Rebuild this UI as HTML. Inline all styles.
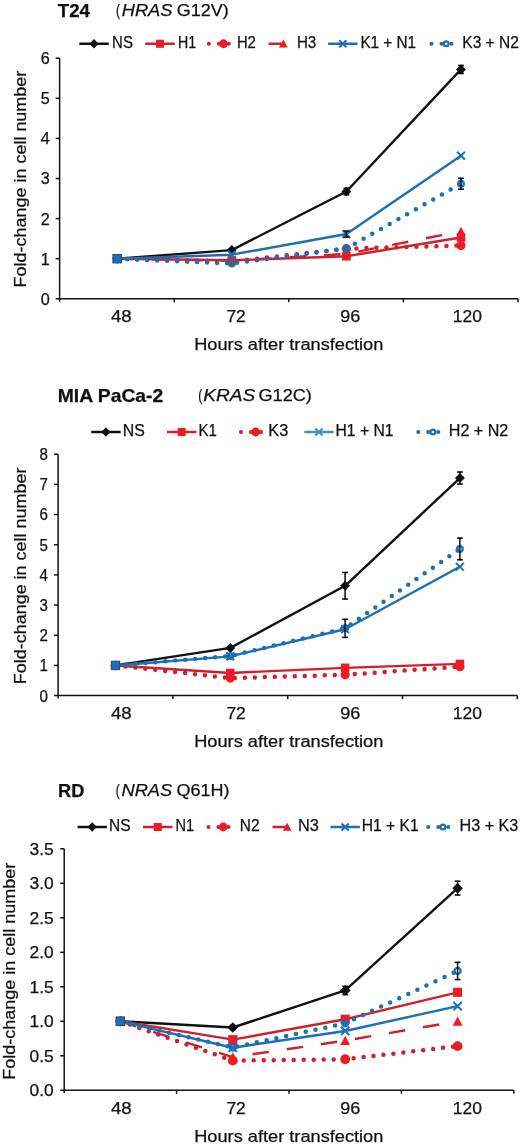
<!DOCTYPE html>
<html><head><meta charset="utf-8"><title>Fold-change in cell number</title>
<style>
html,body{margin:0;padding:0;background:#fff;}
svg{display:block;}
svg text{font-family:"Liberation Sans",Arial,Helvetica,sans-serif;fill:#111;stroke:#111;stroke-width:0.25px;stroke-linejoin:round;}
</style></head><body>
<svg width="520" height="1146" viewBox="0 0 520 1146">
<rect width="520" height="1146" fill="#fff"/>
<polyline points="117.20,258.70 231.80,250.08 346.40,191.53 461.00,69.43" fill="none" stroke="#111" stroke-width="2.4" stroke-linecap="butt" stroke-linejoin="round"/>
<path d="M117.20 253.73L122.17 258.70L117.20 263.67L112.23 258.70Z" fill="#111"/>
<path d="M231.80 245.11L236.77 250.08L231.80 255.05L226.83 250.08Z" fill="#111"/>
<path d="M346.40 186.56L351.37 191.53L346.40 196.50L341.43 191.53Z" fill="#111"/>
<path d="M461.00 64.46L465.97 69.43L461.00 74.40L456.03 69.43Z" fill="#111"/>
<line x1="231.80" y1="248.88" x2="231.80" y2="251.28" stroke="#0a0a14" stroke-width="1.5" />
<line x1="228.90" y1="248.88" x2="234.70" y2="248.88" stroke="#0a0a14" stroke-width="1.6" />
<line x1="228.90" y1="251.28" x2="234.70" y2="251.28" stroke="#0a0a14" stroke-width="1.6" />
<line x1="346.40" y1="188.32" x2="346.40" y2="194.74" stroke="#0a0a14" stroke-width="1.5" />
<line x1="343.50" y1="188.32" x2="349.30" y2="188.32" stroke="#0a0a14" stroke-width="1.6" />
<line x1="343.50" y1="194.74" x2="349.30" y2="194.74" stroke="#0a0a14" stroke-width="1.6" />
<line x1="461.00" y1="65.42" x2="461.00" y2="73.44" stroke="#0a0a14" stroke-width="1.5" />
<line x1="458.10" y1="65.42" x2="463.90" y2="65.42" stroke="#0a0a14" stroke-width="1.6" />
<line x1="458.10" y1="73.44" x2="463.90" y2="73.44" stroke="#0a0a14" stroke-width="1.6" />
<polyline points="117.20,258.70 231.80,260.30 346.40,256.29 461.00,237.45" fill="none" stroke="#D21F2D" stroke-width="2.4" stroke-linecap="butt" stroke-linejoin="round"/>
<rect x="112.92" y="254.42" width="8.56" height="8.56" fill="#ED1C24"/>
<rect x="227.52" y="256.03" width="8.56" height="8.56" fill="#ED1C24"/>
<rect x="342.12" y="252.02" width="8.56" height="8.56" fill="#ED1C24"/>
<rect x="456.72" y="233.17" width="8.56" height="8.56" fill="#ED1C24"/>
<polyline points="117.20,258.70 231.80,261.51 346.40,248.68 461.00,245.47" fill="none" stroke="#D21F2D" stroke-width="4.5" stroke-linecap="round" stroke-linejoin="round" stroke-dasharray="0 10"/>
<circle cx="117.20" cy="258.70" r="4.60" fill="#ED1C24"/>
<circle cx="231.80" cy="261.51" r="4.60" fill="#ED1C24"/>
<circle cx="346.40" cy="248.68" r="4.60" fill="#ED1C24"/>
<circle cx="461.00" cy="245.47" r="4.60" fill="#ED1C24"/>
<polyline points="117.20,258.70 231.80,260.71 346.40,253.89 461.00,231.43" fill="none" stroke="#D21F2D" stroke-width="2.4" stroke-linecap="butt" stroke-linejoin="round" stroke-dasharray="16.5 18"/>
<path d="M117.20 254.10L121.80 262.84L112.60 262.84Z" fill="#ED1C24"/>
<path d="M231.80 256.11L236.40 264.85L227.20 264.85Z" fill="#ED1C24"/>
<path d="M346.40 249.29L351.00 258.03L341.80 258.03Z" fill="#ED1C24"/>
<path d="M461.00 226.83L465.60 235.57L456.40 235.57Z" fill="#ED1C24"/>
<polyline points="117.20,258.70 231.80,254.69 346.40,234.04 461.00,155.64" fill="none" stroke="#1B70B4" stroke-width="2.4" stroke-linecap="butt" stroke-linejoin="round"/>
<path d="M113.29 254.79L121.11 262.61M113.29 262.61L121.11 254.79" stroke="#1B70B4" stroke-width="2" fill="none"/>
<path d="M227.89 250.78L235.71 258.60M227.89 258.60L235.71 250.78" stroke="#1B70B4" stroke-width="2" fill="none"/>
<path d="M342.49 230.13L350.31 237.95M342.49 237.95L350.31 230.13" stroke="#1B70B4" stroke-width="2" fill="none"/>
<path d="M457.09 151.73L464.91 159.55M457.09 159.55L464.91 151.73" stroke="#1B70B4" stroke-width="2" fill="none"/>
<line x1="346.40" y1="231.03" x2="346.40" y2="237.05" stroke="#0a0a14" stroke-width="1.5" />
<line x1="343.50" y1="231.03" x2="349.30" y2="231.03" stroke="#0a0a14" stroke-width="1.6" />
<line x1="343.50" y1="237.05" x2="349.30" y2="237.05" stroke="#0a0a14" stroke-width="1.6" />
<polyline points="117.20,258.70 231.80,263.51 346.40,248.47 461.00,183.71" fill="none" stroke="#1B70B4" stroke-width="4.5" stroke-linecap="round" stroke-linejoin="round" stroke-dasharray="0 10"/>
<circle cx="117.20" cy="258.70" r="2.85" fill="none" stroke="#1B70B4" stroke-width="2.2"/>
<circle cx="231.80" cy="263.51" r="2.85" fill="none" stroke="#1B70B4" stroke-width="2.2"/>
<circle cx="346.40" cy="248.47" r="2.85" fill="none" stroke="#1B70B4" stroke-width="2.2"/>
<circle cx="461.00" cy="183.71" r="2.85" fill="none" stroke="#1B70B4" stroke-width="2.2"/>
<line x1="461.00" y1="178.30" x2="461.00" y2="189.13" stroke="#0a0a14" stroke-width="1.5" />
<line x1="458.10" y1="178.30" x2="463.90" y2="178.30" stroke="#0a0a14" stroke-width="1.6" />
<line x1="458.10" y1="189.13" x2="463.90" y2="189.13" stroke="#0a0a14" stroke-width="1.6" />
<rect x="112.90" y="254.40" width="8.60" height="8.60" fill="#1B70B4" stroke="#1c4a7c" stroke-width="0.8"/>
<line x1="59.60" y1="58.20" x2="59.60" y2="301.80" stroke="#111" stroke-width="1.5" />
<line x1="55.60" y1="298.80" x2="518.00" y2="298.80" stroke="#111" stroke-width="1.5" />
<line x1="518.00" y1="298.80" x2="518.00" y2="302.30" stroke="#111" stroke-width="1.5" />
<line x1="55.60" y1="258.70" x2="59.60" y2="258.70" stroke="#111" stroke-width="1.5" />
<line x1="55.60" y1="218.60" x2="59.60" y2="218.60" stroke="#111" stroke-width="1.5" />
<line x1="55.60" y1="178.50" x2="59.60" y2="178.50" stroke="#111" stroke-width="1.5" />
<line x1="55.60" y1="138.40" x2="59.60" y2="138.40" stroke="#111" stroke-width="1.5" />
<line x1="55.60" y1="98.30" x2="59.60" y2="98.30" stroke="#111" stroke-width="1.5" />
<line x1="55.60" y1="58.20" x2="59.60" y2="58.20" stroke="#111" stroke-width="1.5" />
<line x1="174.20" y1="298.80" x2="174.20" y2="302.30" stroke="#111" stroke-width="1.5" />
<line x1="288.80" y1="298.80" x2="288.80" y2="302.30" stroke="#111" stroke-width="1.5" />
<line x1="403.40" y1="298.80" x2="403.40" y2="302.30" stroke="#111" stroke-width="1.5" />
<text x="40.80" y="304.70" font-size="16.6" textLength="9.02" lengthAdjust="spacingAndGlyphs">0</text>
<text x="40.80" y="264.60" font-size="16.6" textLength="9.02" lengthAdjust="spacingAndGlyphs">1</text>
<text x="40.80" y="224.50" font-size="16.6" textLength="9.02" lengthAdjust="spacingAndGlyphs">2</text>
<text x="40.80" y="184.40" font-size="16.6" textLength="9.02" lengthAdjust="spacingAndGlyphs">3</text>
<text x="40.80" y="144.30" font-size="16.6" textLength="9.02" lengthAdjust="spacingAndGlyphs">4</text>
<text x="40.80" y="104.20" font-size="16.6" textLength="9.02" lengthAdjust="spacingAndGlyphs">5</text>
<text x="40.80" y="64.10" font-size="16.6" textLength="9.02" lengthAdjust="spacingAndGlyphs">6</text>
<text x="110.90" y="322.10" font-size="16.6" textLength="20.74" lengthAdjust="spacingAndGlyphs">48</text>
<text x="226.40" y="322.10" font-size="16.6" textLength="19.34" lengthAdjust="spacingAndGlyphs">72</text>
<text x="340.30" y="322.10" font-size="16.6" textLength="20.14" lengthAdjust="spacingAndGlyphs">96</text>
<text x="452.70" y="322.10" font-size="16.6" textLength="29.17" lengthAdjust="spacingAndGlyphs">120</text>
<text x="194.20" y="350.00" font-size="16.7" textLength="189.18" lengthAdjust="spacingAndGlyphs">Hours after transfection</text>
<text transform="translate(26.20,287.50) rotate(-90)" x="0.00" y="0" font-size="17.2" textLength="216.84" lengthAdjust="spacingAndGlyphs">Fold-change in cell number</text>
<text x="57.80" y="16.80" font-size="17.8" textLength="32.17" lengthAdjust="spacingAndGlyphs" font-weight="bold" stroke-width="0">T24</text>
<text x="116.00" y="15.70" font-size="16.7" textLength="3.98" lengthAdjust="spacingAndGlyphs">(</text>
<text x="121.75" y="15.70" font-size="16.7" textLength="50.72" lengthAdjust="spacingAndGlyphs" font-style="italic">HRAS</text>
<text x="176.75" y="15.70" font-size="16.7" textLength="52.00" lengthAdjust="spacingAndGlyphs">G12V)</text>
<polyline points="79.30,43.75 108.70,43.75" fill="none" stroke="#111" stroke-width="2.5" stroke-linecap="butt" stroke-linejoin="round"/>
<path d="M94.00 39.11L98.64 43.75L94.00 48.39L89.36 43.75Z" fill="#111"/>
<text x="112.10" y="48.30" font-size="15.7" textLength="20.79" lengthAdjust="spacingAndGlyphs">NS</text>
<polyline points="145.30,43.75 174.70,43.75" fill="none" stroke="#D21F2D" stroke-width="2.5" stroke-linecap="butt" stroke-linejoin="round"/>
<rect x="156.00" y="39.75" width="8.00" height="8.00" fill="#ED1C24"/>
<text x="178.10" y="48.30" font-size="15.7" textLength="18.18" lengthAdjust="spacingAndGlyphs">H1</text>
<polyline points="208.80,43.75 238.20,43.75" fill="none" stroke="#D21F2D" stroke-width="4.1" stroke-linecap="round" stroke-linejoin="round" stroke-dasharray="0 10"/>
<circle cx="223.50" cy="43.75" r="4.40" fill="#ED1C24"/>
<text x="236.90" y="48.30" font-size="15.7" textLength="18.98" lengthAdjust="spacingAndGlyphs">H2</text>
<polyline points="268.60,43.75 298.00,43.75" fill="none" stroke="#D21F2D" stroke-width="2.5" stroke-linecap="butt" stroke-linejoin="round" stroke-dasharray="16.5 18"/>
<path d="M283.30 39.45L287.60 47.62L279.00 47.62Z" fill="#ED1C24"/>
<text x="296.90" y="48.30" font-size="15.7" textLength="19.38" lengthAdjust="spacingAndGlyphs">H3</text>
<polyline points="328.10,43.75 357.50,43.75" fill="none" stroke="#1B70B4" stroke-width="2.5" stroke-linecap="butt" stroke-linejoin="round"/>
<path d="M339.23 40.18L346.37 47.32M339.23 47.32L346.37 40.18" stroke="#1B70B4" stroke-width="2" fill="none"/>
<text x="360.40" y="48.30" font-size="15.7" textLength="55.72" lengthAdjust="spacingAndGlyphs">K1 + N1</text>
<polyline points="431.50,43.75 460.90,43.75" fill="none" stroke="#1B70B4" stroke-width="4.1" stroke-linecap="round" stroke-linejoin="round" stroke-dasharray="0 10"/>
<circle cx="446.20" cy="43.75" r="2.42" fill="none" stroke="#1B70B4" stroke-width="2.2"/>
<text x="462.30" y="48.30" font-size="15.7" textLength="56.52" lengthAdjust="spacingAndGlyphs">K3 + N2</text>
<polyline points="115.50,665.43 230.30,647.92 345.10,585.76 459.90,478.04" fill="none" stroke="#111" stroke-width="2.4" stroke-linecap="butt" stroke-linejoin="round"/>
<path d="M115.50 660.46L120.47 665.43L115.50 670.39L110.53 665.43Z" fill="#111"/>
<path d="M230.30 642.96L235.27 647.92L230.30 652.89L225.33 647.92Z" fill="#111"/>
<path d="M345.10 580.80L350.07 585.76L345.10 590.73L340.13 585.76Z" fill="#111"/>
<path d="M459.90 473.07L464.87 478.04L459.90 483.01L454.93 478.04Z" fill="#111"/>
<line x1="230.30" y1="646.41" x2="230.30" y2="649.43" stroke="#0a0a14" stroke-width="1.5" />
<line x1="227.40" y1="646.41" x2="233.20" y2="646.41" stroke="#0a0a14" stroke-width="1.6" />
<line x1="227.40" y1="649.43" x2="233.20" y2="649.43" stroke="#0a0a14" stroke-width="1.6" />
<line x1="345.10" y1="572.49" x2="345.10" y2="599.04" stroke="#0a0a14" stroke-width="1.5" />
<line x1="342.20" y1="572.49" x2="348.00" y2="572.49" stroke="#0a0a14" stroke-width="1.6" />
<line x1="342.20" y1="599.04" x2="348.00" y2="599.04" stroke="#0a0a14" stroke-width="1.6" />
<line x1="459.90" y1="472.00" x2="459.90" y2="484.07" stroke="#0a0a14" stroke-width="1.5" />
<line x1="457.00" y1="472.00" x2="462.80" y2="472.00" stroke="#0a0a14" stroke-width="1.6" />
<line x1="457.00" y1="484.07" x2="462.80" y2="484.07" stroke="#0a0a14" stroke-width="1.6" />
<polyline points="115.50,665.43 230.30,672.97 345.10,667.84 459.90,663.92" fill="none" stroke="#D21F2D" stroke-width="2.4" stroke-linecap="butt" stroke-linejoin="round"/>
<rect x="111.22" y="661.15" width="8.56" height="8.56" fill="#ED1C24"/>
<rect x="226.02" y="668.69" width="8.56" height="8.56" fill="#ED1C24"/>
<rect x="340.82" y="663.56" width="8.56" height="8.56" fill="#ED1C24"/>
<rect x="455.62" y="659.64" width="8.56" height="8.56" fill="#ED1C24"/>
<polyline points="115.50,665.43 230.30,678.10 345.10,674.78 459.90,666.63" fill="none" stroke="#D21F2D" stroke-width="4.5" stroke-linecap="round" stroke-linejoin="round" stroke-dasharray="0 10"/>
<circle cx="115.50" cy="665.43" r="4.60" fill="#ED1C24"/>
<circle cx="230.30" cy="678.10" r="4.60" fill="#ED1C24"/>
<circle cx="345.10" cy="674.78" r="4.60" fill="#ED1C24"/>
<circle cx="459.90" cy="666.63" r="4.60" fill="#ED1C24"/>
<polyline points="115.50,665.43 230.30,656.37 345.10,629.22 459.90,566.75" fill="none" stroke="#1B70B4" stroke-width="2.4" stroke-linecap="butt" stroke-linejoin="round"/>
<path d="M111.59 661.52L119.41 669.34M111.59 669.34L119.41 661.52" stroke="#1B70B4" stroke-width="2" fill="none"/>
<path d="M226.39 652.46L234.21 660.28M226.39 660.28L234.21 652.46" stroke="#1B70B4" stroke-width="2" fill="none"/>
<path d="M341.19 625.31L349.01 633.12M341.19 633.12L349.01 625.31" stroke="#1B70B4" stroke-width="2" fill="none"/>
<path d="M455.99 562.84L463.81 570.66M455.99 570.66L463.81 562.84" stroke="#1B70B4" stroke-width="2" fill="none"/>
<polyline points="115.50,665.43 230.30,656.07 345.10,628.31 459.90,548.95" fill="none" stroke="#1B70B4" stroke-width="4.5" stroke-linecap="round" stroke-linejoin="round" stroke-dasharray="0 10"/>
<circle cx="115.50" cy="665.43" r="2.85" fill="none" stroke="#1B70B4" stroke-width="2.2"/>
<circle cx="230.30" cy="656.07" r="2.85" fill="none" stroke="#1B70B4" stroke-width="2.2"/>
<circle cx="345.10" cy="628.31" r="2.85" fill="none" stroke="#1B70B4" stroke-width="2.2"/>
<circle cx="459.90" cy="548.95" r="2.85" fill="none" stroke="#1B70B4" stroke-width="2.2"/>
<line x1="345.10" y1="619.26" x2="345.10" y2="637.36" stroke="#0a0a14" stroke-width="1.5" />
<line x1="342.20" y1="619.26" x2="348.00" y2="619.26" stroke="#0a0a14" stroke-width="1.6" />
<line x1="342.20" y1="637.36" x2="348.00" y2="637.36" stroke="#0a0a14" stroke-width="1.6" />
<line x1="459.90" y1="538.09" x2="459.90" y2="559.81" stroke="#0a0a14" stroke-width="1.5" />
<line x1="457.00" y1="538.09" x2="462.80" y2="538.09" stroke="#0a0a14" stroke-width="1.6" />
<line x1="457.00" y1="559.81" x2="462.80" y2="559.81" stroke="#0a0a14" stroke-width="1.6" />
<rect x="111.20" y="661.13" width="8.60" height="8.60" fill="#1B70B4" stroke="#1c4a7c" stroke-width="0.8"/>
<line x1="58.10" y1="454.20" x2="58.10" y2="698.60" stroke="#111" stroke-width="1.5" />
<line x1="54.10" y1="695.60" x2="517.30" y2="695.60" stroke="#111" stroke-width="1.5" />
<line x1="517.30" y1="695.60" x2="517.30" y2="699.10" stroke="#111" stroke-width="1.5" />
<line x1="54.10" y1="665.43" x2="58.10" y2="665.43" stroke="#111" stroke-width="1.5" />
<line x1="54.10" y1="635.25" x2="58.10" y2="635.25" stroke="#111" stroke-width="1.5" />
<line x1="54.10" y1="605.08" x2="58.10" y2="605.08" stroke="#111" stroke-width="1.5" />
<line x1="54.10" y1="574.90" x2="58.10" y2="574.90" stroke="#111" stroke-width="1.5" />
<line x1="54.10" y1="544.73" x2="58.10" y2="544.73" stroke="#111" stroke-width="1.5" />
<line x1="54.10" y1="514.55" x2="58.10" y2="514.55" stroke="#111" stroke-width="1.5" />
<line x1="54.10" y1="484.38" x2="58.10" y2="484.38" stroke="#111" stroke-width="1.5" />
<line x1="54.10" y1="454.20" x2="58.10" y2="454.20" stroke="#111" stroke-width="1.5" />
<line x1="172.90" y1="695.60" x2="172.90" y2="699.10" stroke="#111" stroke-width="1.5" />
<line x1="287.70" y1="695.60" x2="287.70" y2="699.10" stroke="#111" stroke-width="1.5" />
<line x1="402.50" y1="695.60" x2="402.50" y2="699.10" stroke="#111" stroke-width="1.5" />
<text x="39.60" y="701.50" font-size="16.6" textLength="8.42" lengthAdjust="spacingAndGlyphs">0</text>
<text x="39.60" y="671.33" font-size="16.6" textLength="8.42" lengthAdjust="spacingAndGlyphs">1</text>
<text x="39.60" y="641.15" font-size="16.6" textLength="8.42" lengthAdjust="spacingAndGlyphs">2</text>
<text x="39.60" y="610.98" font-size="16.6" textLength="8.42" lengthAdjust="spacingAndGlyphs">3</text>
<text x="39.60" y="580.80" font-size="16.6" textLength="8.42" lengthAdjust="spacingAndGlyphs">4</text>
<text x="39.60" y="550.62" font-size="16.6" textLength="8.42" lengthAdjust="spacingAndGlyphs">5</text>
<text x="39.60" y="520.45" font-size="16.6" textLength="8.42" lengthAdjust="spacingAndGlyphs">6</text>
<text x="39.60" y="490.27" font-size="16.6" textLength="8.42" lengthAdjust="spacingAndGlyphs">7</text>
<text x="39.60" y="460.10" font-size="16.6" textLength="8.42" lengthAdjust="spacingAndGlyphs">8</text>
<text x="110.90" y="718.90" font-size="16.6" textLength="20.74" lengthAdjust="spacingAndGlyphs">48</text>
<text x="226.40" y="718.90" font-size="16.6" textLength="19.34" lengthAdjust="spacingAndGlyphs">72</text>
<text x="340.30" y="718.90" font-size="16.6" textLength="20.14" lengthAdjust="spacingAndGlyphs">96</text>
<text x="452.70" y="718.90" font-size="16.6" textLength="29.17" lengthAdjust="spacingAndGlyphs">120</text>
<text x="194.20" y="746.80" font-size="16.7" textLength="189.18" lengthAdjust="spacingAndGlyphs">Hours after transfection</text>
<text transform="translate(26.20,684.30) rotate(-90)" x="0.00" y="0" font-size="17.2" textLength="216.84" lengthAdjust="spacingAndGlyphs">Fold-change in cell number</text>
<text x="57.70" y="401.95" font-size="17.8" textLength="105.59" lengthAdjust="spacingAndGlyphs" font-weight="bold" stroke-width="0">MIA PaCa-2</text>
<text x="198.20" y="401.15" font-size="16.7" textLength="3.98" lengthAdjust="spacingAndGlyphs">(</text>
<text x="203.25" y="401.15" font-size="16.7" textLength="51.97" lengthAdjust="spacingAndGlyphs" font-style="italic">KRAS</text>
<text x="258.50" y="401.15" font-size="16.7" textLength="53.41" lengthAdjust="spacingAndGlyphs">G12C)</text>
<polyline points="91.25,432.00 120.65,432.00" fill="none" stroke="#111" stroke-width="2.5" stroke-linecap="butt" stroke-linejoin="round"/>
<path d="M105.95 427.36L110.59 432.00L105.95 436.64L101.31 432.00Z" fill="#111"/>
<text x="122.75" y="436.40" font-size="15.7" textLength="22.04" lengthAdjust="spacingAndGlyphs">NS</text>
<polyline points="167.00,432.00 196.40,432.00" fill="none" stroke="#D21F2D" stroke-width="2.5" stroke-linecap="butt" stroke-linejoin="round"/>
<rect x="177.70" y="428.00" width="8.00" height="8.00" fill="#ED1C24"/>
<text x="198.50" y="436.40" font-size="15.7" textLength="18.47" lengthAdjust="spacingAndGlyphs">K1</text>
<polyline points="241.00,432.00 270.40,432.00" fill="none" stroke="#D21F2D" stroke-width="4.1" stroke-linecap="round" stroke-linejoin="round" stroke-dasharray="0 10"/>
<circle cx="255.70" cy="432.00" r="4.40" fill="#ED1C24"/>
<text x="268.30" y="436.40" font-size="15.7" textLength="19.97" lengthAdjust="spacingAndGlyphs">K3</text>
<polyline points="304.20,432.00 333.60,432.00" fill="none" stroke="#3B97AE" stroke-width="2.5" stroke-linecap="butt" stroke-linejoin="round"/>
<path d="M315.33 428.43L322.47 435.57M315.33 435.57L322.47 428.43" stroke="#3B97AE" stroke-width="2" fill="none"/>
<text x="335.50" y="436.40" font-size="15.7" textLength="58.12" lengthAdjust="spacingAndGlyphs">H1 + N1</text>
<polyline points="418.25,432.00 447.65,432.00" fill="none" stroke="#1B70B4" stroke-width="4.1" stroke-linecap="round" stroke-linejoin="round" stroke-dasharray="0 10"/>
<circle cx="432.95" cy="432.00" r="2.42" fill="none" stroke="#1B70B4" stroke-width="2.2"/>
<text x="448.75" y="436.40" font-size="15.7" textLength="59.57" lengthAdjust="spacingAndGlyphs">H2 + N2</text>
<polyline points="120.40,1021.30 232.80,1027.51 345.20,990.46 457.60,888.13" fill="none" stroke="#111" stroke-width="2.4" stroke-linecap="butt" stroke-linejoin="round"/>
<path d="M120.40 1016.01L125.69 1021.30L120.40 1026.59L115.11 1021.30Z" fill="#111"/>
<path d="M232.80 1022.22L238.09 1027.51L232.80 1032.80L227.51 1027.51Z" fill="#111"/>
<path d="M345.20 985.16L350.49 990.46L345.20 995.75L339.91 990.46Z" fill="#111"/>
<path d="M457.60 882.84L462.89 888.13L457.60 893.42L452.31 888.13Z" fill="#111"/>
<line x1="232.80" y1="1025.44" x2="232.80" y2="1029.58" stroke="#0a0a14" stroke-width="1.5" />
<line x1="229.90" y1="1025.44" x2="235.70" y2="1025.44" stroke="#0a0a14" stroke-width="1.6" />
<line x1="229.90" y1="1029.58" x2="235.70" y2="1029.58" stroke="#0a0a14" stroke-width="1.6" />
<line x1="345.20" y1="986.32" x2="345.20" y2="994.60" stroke="#0a0a14" stroke-width="1.5" />
<line x1="342.30" y1="986.32" x2="348.10" y2="986.32" stroke="#0a0a14" stroke-width="1.6" />
<line x1="342.30" y1="994.60" x2="348.10" y2="994.60" stroke="#0a0a14" stroke-width="1.6" />
<line x1="457.60" y1="881.23" x2="457.60" y2="895.03" stroke="#0a0a14" stroke-width="1.5" />
<line x1="454.70" y1="881.23" x2="460.50" y2="881.23" stroke="#0a0a14" stroke-width="1.6" />
<line x1="454.70" y1="895.03" x2="460.50" y2="895.03" stroke="#0a0a14" stroke-width="1.6" />
<polyline points="120.40,1021.30 232.80,1039.65 345.20,1019.23 457.60,992.32" fill="none" stroke="#D21F2D" stroke-width="2.4" stroke-linecap="butt" stroke-linejoin="round"/>
<rect x="115.84" y="1016.74" width="9.11" height="9.11" fill="#ED1C24"/>
<rect x="228.24" y="1035.10" width="9.11" height="9.11" fill="#ED1C24"/>
<rect x="340.64" y="1014.67" width="9.11" height="9.11" fill="#ED1C24"/>
<rect x="453.04" y="987.76" width="9.11" height="9.11" fill="#ED1C24"/>
<polyline points="120.40,1021.30 232.80,1060.63 345.20,1059.25 457.60,1046.14" fill="none" stroke="#D21F2D" stroke-width="4.5" stroke-linecap="round" stroke-linejoin="round" stroke-dasharray="0 10"/>
<circle cx="120.40" cy="1021.30" r="4.90" fill="#ED1C24"/>
<circle cx="232.80" cy="1060.63" r="4.90" fill="#ED1C24"/>
<circle cx="345.20" cy="1059.25" r="4.90" fill="#ED1C24"/>
<circle cx="457.60" cy="1046.14" r="4.90" fill="#ED1C24"/>
<polyline points="120.40,1021.30 232.80,1057.18 345.20,1040.62 457.60,1021.30" fill="none" stroke="#D21F2D" stroke-width="2.4" stroke-linecap="butt" stroke-linejoin="round" stroke-dasharray="16.5 18"/>
<path d="M120.40 1016.40L125.30 1025.71L115.50 1025.71Z" fill="#ED1C24"/>
<path d="M232.80 1052.28L237.70 1061.59L227.90 1061.59Z" fill="#ED1C24"/>
<path d="M345.20 1035.72L350.10 1045.03L340.30 1045.03Z" fill="#ED1C24"/>
<path d="M457.60 1016.40L462.50 1025.71L452.70 1025.71Z" fill="#ED1C24"/>
<polyline points="120.40,1021.30 232.80,1047.73 345.20,1030.96 457.60,1006.12" fill="none" stroke="#1B70B4" stroke-width="2.4" stroke-linecap="butt" stroke-linejoin="round"/>
<path d="M116.23 1017.13L124.57 1025.46M116.23 1025.46L124.57 1017.13" stroke="#1B70B4" stroke-width="2" fill="none"/>
<path d="M228.64 1043.56L236.97 1051.89M228.64 1051.89L236.97 1043.56" stroke="#1B70B4" stroke-width="2" fill="none"/>
<path d="M341.03 1026.80L349.37 1035.12M341.03 1035.12L349.37 1026.80" stroke="#1B70B4" stroke-width="2" fill="none"/>
<path d="M453.43 1001.96L461.76 1010.28M453.43 1010.28L461.76 1001.96" stroke="#1B70B4" stroke-width="2" fill="none"/>
<polyline points="120.40,1021.30 232.80,1047.52 345.20,1023.37 457.60,970.93" fill="none" stroke="#1B70B4" stroke-width="4.5" stroke-linecap="round" stroke-linejoin="round" stroke-dasharray="0 10"/>
<circle cx="120.40" cy="1021.30" r="3.04" fill="none" stroke="#1B70B4" stroke-width="2.2"/>
<circle cx="232.80" cy="1047.52" r="3.04" fill="none" stroke="#1B70B4" stroke-width="2.2"/>
<circle cx="345.20" cy="1023.37" r="3.04" fill="none" stroke="#1B70B4" stroke-width="2.2"/>
<circle cx="457.60" cy="970.93" r="3.04" fill="none" stroke="#1B70B4" stroke-width="2.2"/>
<line x1="457.60" y1="962.30" x2="457.60" y2="979.55" stroke="#0a0a14" stroke-width="1.5" />
<line x1="454.70" y1="962.30" x2="460.50" y2="962.30" stroke="#0a0a14" stroke-width="1.6" />
<line x1="454.70" y1="979.55" x2="460.50" y2="979.55" stroke="#0a0a14" stroke-width="1.6" />
<rect x="116.10" y="1017.00" width="8.60" height="8.60" fill="#1B70B4" stroke="#1c4a7c" stroke-width="0.8"/>
<line x1="64.20" y1="848.80" x2="64.20" y2="1093.30" stroke="#111" stroke-width="1.5" />
<line x1="60.20" y1="1090.30" x2="513.80" y2="1090.30" stroke="#111" stroke-width="1.5" />
<line x1="513.80" y1="1090.30" x2="513.80" y2="1093.80" stroke="#111" stroke-width="1.5" />
<line x1="60.20" y1="1055.80" x2="64.20" y2="1055.80" stroke="#111" stroke-width="1.5" />
<line x1="60.20" y1="1021.30" x2="64.20" y2="1021.30" stroke="#111" stroke-width="1.5" />
<line x1="60.20" y1="986.80" x2="64.20" y2="986.80" stroke="#111" stroke-width="1.5" />
<line x1="60.20" y1="952.30" x2="64.20" y2="952.30" stroke="#111" stroke-width="1.5" />
<line x1="60.20" y1="917.80" x2="64.20" y2="917.80" stroke="#111" stroke-width="1.5" />
<line x1="60.20" y1="883.30" x2="64.20" y2="883.30" stroke="#111" stroke-width="1.5" />
<line x1="60.20" y1="848.80" x2="64.20" y2="848.80" stroke="#111" stroke-width="1.5" />
<line x1="176.60" y1="1090.30" x2="176.60" y2="1093.80" stroke="#111" stroke-width="1.5" />
<line x1="289.00" y1="1090.30" x2="289.00" y2="1093.80" stroke="#111" stroke-width="1.5" />
<line x1="401.40" y1="1090.30" x2="401.40" y2="1093.80" stroke="#111" stroke-width="1.5" />
<text x="29.60" y="1096.20" font-size="16.6" textLength="24.20" lengthAdjust="spacingAndGlyphs">0.0</text>
<text x="29.60" y="1061.70" font-size="16.6" textLength="24.20" lengthAdjust="spacingAndGlyphs">0.5</text>
<text x="29.60" y="1027.20" font-size="16.6" textLength="24.20" lengthAdjust="spacingAndGlyphs">1.0</text>
<text x="29.60" y="992.70" font-size="16.6" textLength="24.20" lengthAdjust="spacingAndGlyphs">1.5</text>
<text x="29.60" y="958.20" font-size="16.6" textLength="24.20" lengthAdjust="spacingAndGlyphs">2.0</text>
<text x="29.60" y="923.70" font-size="16.6" textLength="24.20" lengthAdjust="spacingAndGlyphs">2.5</text>
<text x="29.60" y="889.20" font-size="16.6" textLength="24.20" lengthAdjust="spacingAndGlyphs">3.0</text>
<text x="29.60" y="854.70" font-size="16.6" textLength="24.20" lengthAdjust="spacingAndGlyphs">3.5</text>
<text x="110.90" y="1113.60" font-size="16.6" textLength="20.74" lengthAdjust="spacingAndGlyphs">48</text>
<text x="226.40" y="1113.60" font-size="16.6" textLength="19.34" lengthAdjust="spacingAndGlyphs">72</text>
<text x="340.30" y="1113.60" font-size="16.6" textLength="20.14" lengthAdjust="spacingAndGlyphs">96</text>
<text x="452.70" y="1113.60" font-size="16.6" textLength="29.17" lengthAdjust="spacingAndGlyphs">120</text>
<text x="194.20" y="1141.50" font-size="16.7" textLength="189.18" lengthAdjust="spacingAndGlyphs">Hours after transfection</text>
<text transform="translate(15.00,1079.70) rotate(-90)" x="0.00" y="0" font-size="17.2" textLength="216.84" lengthAdjust="spacingAndGlyphs">Fold-change in cell number</text>
<text x="58.00" y="796.95" font-size="17.8" textLength="26.29" lengthAdjust="spacingAndGlyphs" font-weight="bold" stroke-width="0">RD</text>
<text x="115.80" y="796.15" font-size="16.7" textLength="3.98" lengthAdjust="spacingAndGlyphs">(</text>
<text x="121.50" y="796.15" font-size="16.7" textLength="50.72" lengthAdjust="spacingAndGlyphs" font-style="italic">NRAS</text>
<text x="176.50" y="796.15" font-size="16.7" textLength="53.01" lengthAdjust="spacingAndGlyphs">Q61H)</text>
<polyline points="77.50,827.00 106.90,827.00" fill="none" stroke="#111" stroke-width="2.5" stroke-linecap="butt" stroke-linejoin="round"/>
<path d="M92.20 822.36L96.84 827.00L92.20 831.64L87.56 827.00Z" fill="#111"/>
<text x="109.00" y="831.40" font-size="15.7" textLength="21.59" lengthAdjust="spacingAndGlyphs">NS</text>
<polyline points="143.00,827.00 172.40,827.00" fill="none" stroke="#D21F2D" stroke-width="2.5" stroke-linecap="butt" stroke-linejoin="round"/>
<rect x="153.70" y="823.00" width="8.00" height="8.00" fill="#ED1C24"/>
<text x="175.40" y="831.40" font-size="15.7" textLength="18.68" lengthAdjust="spacingAndGlyphs">N1</text>
<polyline points="208.50,827.00 237.90,827.00" fill="none" stroke="#D21F2D" stroke-width="4.1" stroke-linecap="round" stroke-linejoin="round" stroke-dasharray="0 10"/>
<circle cx="223.20" cy="827.00" r="4.40" fill="#ED1C24"/>
<text x="239.75" y="831.40" font-size="15.7" textLength="19.72" lengthAdjust="spacingAndGlyphs">N2</text>
<polyline points="272.50,827.00 301.90,827.00" fill="none" stroke="#D21F2D" stroke-width="2.5" stroke-linecap="butt" stroke-linejoin="round" stroke-dasharray="16.5 18"/>
<path d="M287.20 822.70L291.50 830.87L282.90 830.87Z" fill="#ED1C24"/>
<text x="298.00" y="831.40" font-size="15.7" textLength="20.97" lengthAdjust="spacingAndGlyphs">N3</text>
<polyline points="330.50,827.00 359.90,827.00" fill="none" stroke="#1B70B4" stroke-width="2.5" stroke-linecap="butt" stroke-linejoin="round"/>
<path d="M341.63 823.43L348.77 830.57M341.63 830.57L348.77 823.43" stroke="#1B70B4" stroke-width="2" fill="none"/>
<text x="361.75" y="831.40" font-size="15.7" textLength="57.02" lengthAdjust="spacingAndGlyphs">H1 + K1</text>
<polyline points="428.25,827.00 457.65,827.00" fill="none" stroke="#1B70B4" stroke-width="4.1" stroke-linecap="round" stroke-linejoin="round" stroke-dasharray="0 10"/>
<circle cx="442.95" cy="827.00" r="2.42" fill="none" stroke="#1B70B4" stroke-width="2.2"/>
<text x="459.50" y="831.40" font-size="15.7" textLength="58.82" lengthAdjust="spacingAndGlyphs">H3 + K3</text>
</svg>
</body></html>
